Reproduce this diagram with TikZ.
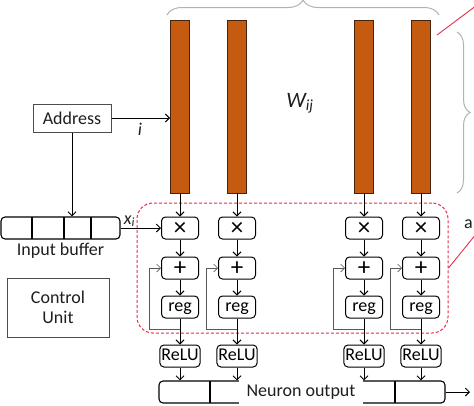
\documentclass[tikz,border=0pt]{standalone}
\usepackage{fontspec}
\setmainfont{Carlito}
\usetikzlibrary{arrows.meta, positioning, calc, decorations.pathreplacing}
\definecolor{wbar}{RGB}{197,90,17}
\definecolor{wedge}{RGB}{70,35,10}
\definecolor{peframe}{RGB}{228,45,75}
\definecolor{txt}{RGB}{30,30,30}
\tikzset{
    unit/.style={rectangle, rounded corners=4pt, draw, line width=1pt, minimum width=37pt, minimum height=22pt, inner sep=1.5pt, text height=12pt, text depth=3.5pt, font=\fontsize{18}{20}\selectfont},
    opunit/.style={unit, text height=14pt, text depth=0pt, font=\fontsize{25}{25}\selectfont},
    plainbox/.style={rectangle, draw=black!70, line width=1pt, align=center, font=\fontsize{18}{20}\selectfont, text=txt},
    weight/.style={rectangle, draw=wedge, fill=wbar, line width=0.9pt, minimum width=19pt, minimum height=173pt, inner sep=0pt},
    buffer/.style={rectangle, rounded corners=4pt, draw, line width=1.1pt, minimum height=22pt, inner sep=0pt},
    arrow/.style={-{Straight Barb[length=4pt, width=8pt]}, line width=1pt},
    feedback/.style={-{Straight Barb[length=4pt, width=8pt]}, line width=0.7pt, black!65},
    peborder/.style={draw=peframe, dash pattern=on 3pt off 2pt, line width=1pt, rounded corners=16pt},
    pointer/.style={peframe, line width=0.9pt},
    bracket/.style={black!30, line width=1pt, decorate, decoration={brace, amplitude=#1}},
    txtlabel/.style={font=\fontsize{18}{20}\selectfont, text=txt, inner sep=1pt}
}
\begin{document}
\begin{tikzpicture}[x=1pt, y=-1pt]
    \useasboundingbox (0,0) rectangle (474,405);

    % weight columns and the processing units under them
    \foreach \i/\x in {1/180, 2/237, 3/364, 4/421} {
        \node[weight] (bar\i) at (\x,106.5) {};
        \node[opunit] (mul\i) at (\x,228) {×};
        \node[opunit, below=17pt of mul\i] (add\i) {+};
        \node[unit, below=16pt of add\i] (reg\i) {reg};
        \node[unit, below=26pt of reg\i] (relu\i) {ReLU};
    }
    \node[txtlabel, font=\fontsize{22}{24}\selectfont\itshape] (wlabel) at (300,103) {W\textsubscript{ij}};

    % PE array frame
    \node[peborder, minimum width=311pt, minimum height=130pt] (pe) at (292.5,268) {};

    % address and input side
    \node[plainbox, minimum width=78pt, minimum height=28pt] (address) at (72,118) {Address};
    \node[plainbox, minimum width=102pt, minimum height=59pt] (control) at (58,307.5) {Control\\Unit};
    \node[buffer, minimum width=119pt] (inbuf) at (60.5,228) {};
    \foreach \x in {32,64,91} \draw[line width=1.1pt] (\x,217) -- (\x,239);
    \node[txtlabel, below=2pt of inbuf] (inbuftext) {Input buffer};

    % output buffer
    \node[buffer, minimum width=286pt] (outbuf) at (302,392) {};
    \foreach \x in {210,395} \draw[line width=1.1pt] (\x,381) -- (\x,403);
    \node[txtlabel, fill=white, minimum width=124pt, minimum height=26pt] (outtext) at (301,392) {Neuron output};

    % arrows
    \draw[arrow] (address) -- (address -| bar1.west);
    \node[txtlabel] (idx) at (140,129) {\itshape i};
    \draw[arrow] (address) -- (address |- inbuf.north);
    \draw[arrow] (inbuf) -- (mul1);
    \node[txtlabel, above right=0pt and 2pt of inbuf.east] (xlabel) {\itshape x\textsubscript{i}};
    \foreach \i in {1,...,4} {
        \draw[arrow] (bar\i) -- (mul\i);
        \draw[arrow] (mul\i) -- (add\i);
        \draw[arrow] (add\i) -- (reg\i);
        \draw[arrow] (reg\i) -- (relu\i);
        \coordinate (fb\i) at ($(reg\i.south)!0.4!(relu\i.north)$);
        \draw[feedback] (fb\i) -| ([xshift=-12pt]add\i.west) -- (add\i.west);
        \draw[arrow] (relu\i) -- (relu\i |- outbuf.north);
    }
    \coordinate (outend) at (470,392);
    \draw[arrow] (outbuf) -- (outend);

    % braces and callouts
    \draw[bracket=15pt] (167,15) -- (439,15);
    \draw[bracket=13pt] (457,32) -- (457,193);
    \coordinate (wtip) at (437,35);
    \coordinate (wend) at (481,2);
    \draw[pointer] (wtip) -- (wend);
    \coordinate (peend) at (481,228);
    \draw[pointer] (pe.east) -- (peend);
    \node[txtlabel, anchor=base east] (petext) at (474,228) {a};
\end{tikzpicture}
\end{document}
